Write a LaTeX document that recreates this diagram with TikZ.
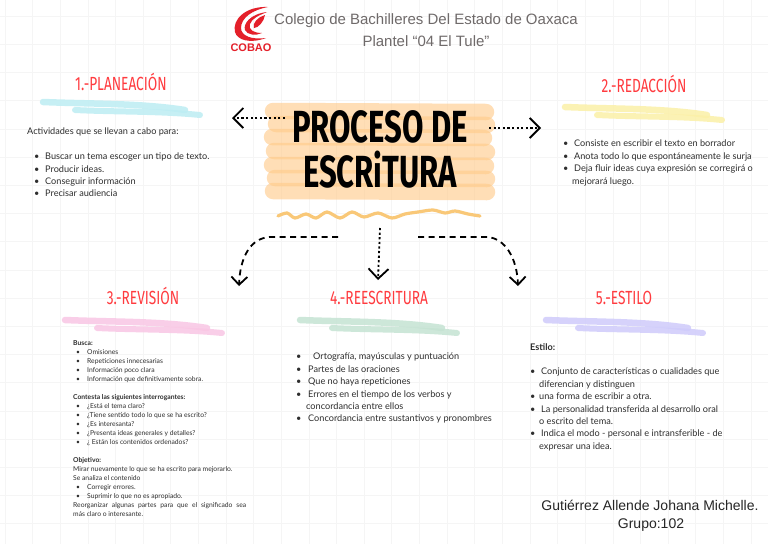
\documentclass[tikz,border=0pt]{standalone}
\usepackage{fontspec}
\usetikzlibrary{arrows.meta}
\setmainfont{Lato}
\newfontfamily\headfont[FakeStretch=0.72]{Fira Sans}
\newfontfamily\titlefont[FakeStretch=0.69]{Fira Sans}
\newfontfamily\arialfont{Liberation Sans}
\definecolor{headred}{HTML}{FF3B3F}
\definecolor{headgray}{HTML}{6F6A6A}
\definecolor{bodygray}{HTML}{2E2E2E}
\definecolor{cobaored}{HTML}{E4202A}
\definecolor{brushorange}{HTML}{FFCB8A}
\definecolor{wiggleorange}{HTML}{F9C878}
\definecolor{markcyan}{HTML}{BDEDF3}
\definecolor{markyellow}{HTML}{FBF0A8}
\definecolor{markpink}{HTML}{F9C6E4}
\definecolor{markgreen}{HTML}{C5E3D3}
\definecolor{marklilac}{HTML}{CFCBFB}
\newcommand{\itm}[2][10pt]{\makebox[#1][l]{\textbullet}#2}
\tikzset{
  headtext/.style={anchor=base,text=headred,font=\headfont\fontsize{19}{20}\selectfont},
  titletext/.style={anchor=base,text=black,font=\titlefont\bfseries\fontsize{45}{50}\selectfont},
  bodytext/.style={anchor=north west,inner sep=0pt,align=left,text=bodygray,font=\fontsize{9.15}{12.4}\selectfont},
  smalltext/.style={anchor=north west,inner sep=0pt,align=left,text=bodygray,font=\fontsize{6.75}{9}\selectfont},
  arialtext/.style={font=\arialfont\fontsize{14}{16}\selectfont},
  dottedlink/.style={line width=1.8pt,dash pattern=on 2.2pt off 2.4pt,-{Straight Barb[length=10pt,width=20pt,line width=1.8pt]}},
  dashedlink/.style={line width=1.8pt,dash pattern=on 6pt off 4.5pt,-{Straight Barb[length=8pt,width=16pt,line width=1.8pt]}}
}
\begin{document}
\begin{tikzpicture}[x=1pt,y=-1pt]
\useasboundingbox (0,0) rectangle (768,544);
\fill[white] (0,0) rectangle (768,544);
\foreach \gx in {0,...,27}
  \draw[black!4,line width=0.5pt] (4.9+27.63*\gx,0) -- (4.9+27.63*\gx,544);
\foreach \gy in {0,...,18}
  \draw[black!4,line width=0.5pt] (0,16+28.2*\gy) -- (768,16+28.2*\gy);

\foreach \by/\bl/\br in {111/273/486,124/276/487,137/272/484,151/274/487,165/272/486,178/275/487,191/273/487}
  \draw[brushorange,opacity=0.62,line width=16.5pt,line cap=round] (\bl,\by) -- (\br,\by+1);
\draw[wiggleorange,line width=3.2pt,line cap=round] plot[smooth] coordinates {(278,216) (287,213) (295,218) (306,214) (316,218) (327,212) (340,218) (352,212) (364,217) (378,213) (392,218) (405,214) (418,212) (433,210) (445,213) (455,211) (468,214) (480,216)};

\foreach \mx/\my/\mcol in {0/0/markcyan,522/5/markyellow,22/218/markpink,257/218/markgreen,503/218/marklilac}{
  \draw[\mcol,opacity=0.85,line width=6.5pt,line cap=round] (43+\mx,102+\my) .. controls (90+\mx,104+\my) and (140+\mx,103+\my) .. (185+\mx,110+\my);
  \draw[\mcol,opacity=0.85,line width=6pt,line cap=round] (75+\mx,110+\my) .. controls (115+\mx,112+\my) and (160+\mx,111+\my) .. (200+\mx,115+\my);
}

\fill[cobaored] (268,7) .. controls (245,6) and (232,20) .. (235,32) .. controls (237,40) and (250,44) .. (266,38) .. controls (252,40) and (241,36) .. (241,28) .. controls (241,18) and (252,10) .. (268,7) -- cycle;
\fill[cobaored] (267,12) .. controls (250,14) and (243,24) .. (245,30) .. controls (247,35) and (256,36) .. (262,33) .. controls (254,33) and (248,30) .. (250,24) .. controls (252,18) and (260,15) .. (267,12) -- cycle;
\fill[cobaored] (265,15) .. controls (258,17) and (252,23) .. (254,28) .. controls (258,28) and (264,22) .. (265,15) -- cycle;
\node (cobao) at (251,48) [inner sep=0pt,text=cobaored,font=\arialfont\bfseries\fontsize{11}{12}\selectfont] {COBAO};

\node (colegio) at (426,21) [text=headgray,font=\arialfont\fontsize{15}{16}\selectfont] {Colegio de Bachilleres Del Estado de Oaxaca};
\node (plantel) at (426,41) [text=headgray,font=\arialfont\fontsize{15}{16}\selectfont] {Plantel “04 El Tule”};

\node (procesotitle) at (380,142) [titletext] {PROCESO DE};
\node (escrituratitle) at (380,187) [titletext] {ESCRiTURA};

\node (planeacion) at (121,90) [headtext] {1.-PLANEACIÓN};
\node (redaccion) at (644,92) [headtext] {2.-REDACCIÓN};
\node (revision) at (143,304) [headtext] {3.-REVISIÓN};
\node (reescritura) at (379,304) [headtext] {4.-REESCRITURA};
\node (estilo) at (624,304) [headtext] {5.-ESTILO};

\node (planeatext) at (27,128) [bodytext] {Actividades que se llevan a cabo para:\\[0pt]
\mbox{}\\
\hspace*{7pt}\itm[11pt]{Buscar un tema escoger un tipo de texto.}\\
\hspace*{7pt}\itm[11pt]{Producir ideas.}\\
\hspace*{7pt}\itm[11pt]{Conseguir información}\\
\hspace*{7pt}\itm[11pt]{Precisar audiencia}};

\node (redacciontext) at (563,140) [bodytext] {\itm[11pt]{Consiste en escribir el texto en borrador}\\
\itm[11pt]{Anota todo lo que espontáneamente le surja}\\
\itm[11pt]{Deja fluir ideas cuya expresión se corregirá o}\\
\hspace*{9pt}mejorará luego.};

\node (revisiontext) at (73,340) [smalltext] {\textbf{Busca:}\\
\hspace*{3pt}\itm[11pt]{Omisiones}\\
\hspace*{3pt}\itm[11pt]{Repeticiones innecesarias}\\
\hspace*{3pt}\itm[11pt]{Información poco clara}\\
\hspace*{3pt}\itm[11pt]{Información que definitivamente sobra.}\\
\mbox{}\\
\textbf{Contesta las siguientes interrogantes:}\\
\hspace*{3pt}\itm[11pt]{¿Está el tema claro?}\\
\hspace*{3pt}\itm[11pt]{¿Tiene sentido todo lo que se ha escrito?}\\
\hspace*{3pt}\itm[11pt]{¿Es interesanta?}\\
\hspace*{3pt}\itm[11pt]{¿Presenta ideas generales y detalles?}\\
\hspace*{3pt}\itm[11pt]{¿ Están los contenidos ordenados?}\\
\mbox{}\\
\textbf{Objetivo:}\\
Mirar nuevamente lo que se ha escrito para mejorarlo.\\
Se analiza el contenido\\
\hspace*{3pt}\itm[11pt]{Corregir errores.}\\
\hspace*{3pt}\itm[11pt]{Suprimir lo que no es apropiado.}\\
\makebox[173pt][s]{Reorganizar algunas partes para que el significado sea}\\
más claro o interesante.};

\node (reescrituratext) at (296,353) [bodytext] {\itm[17pt]{Ortografía, mayúsculas y puntuación}\\
\itm[12pt]{Partes de las oraciones}\\
\itm[12pt]{Que no haya repeticiones}\\
\itm[12pt]{Errores en el tiempo de los verbos y}\\
\hspace*{10pt}concordancia entre ellos\\
\itm[12pt]{Concordancia entre sustantivos y pronombres}};

\node (estilotext) at (530,343) [bodytext] {\textbf{Estilo:}\\
\mbox{}\\
\itm[11pt]{Conjunto de características o cualidades que}\\
\hspace*{9pt}diferencian y distinguen\\
\itm[9pt]{una forma de escribir a otra.}\\
\itm[11pt]{La personalidad transferida al desarrollo oral}\\
\hspace*{9pt}o escrito del tema.\\
\itm[11pt]{Indica el modo - personal e intransferible - de}\\
\hspace*{9pt}expresar una idea.};

\node (autora) at (650,505.5) [arialtext,text=black!85] {Gutiérrez Allende Johana Michelle.};
\node (grupo) at (651,525.5) [arialtext,text=black!85] {Grupo:102};

\coordinate (leftstart) at (285,118);
\coordinate (lefttip) at (232,118);
\coordinate (rightstart) at (489,128);
\coordinate (righttip) at (541,128);
\coordinate (downlstart) at (338,237);
\coordinate (downltip) at (239,286);
\coordinate (downmstart) at (380,228);
\coordinate (downmtip) at (378,280);
\coordinate (downrstart) at (418,237);
\coordinate (downrtip) at (518,286);

\draw[dottedlink] (leftstart) -- (lefttip);
\draw[dottedlink] (rightstart) -- (righttip);
\draw[dottedlink] (downmstart) -- (downmtip);
\draw[dashedlink] (downlstart) -- (270,237) .. controls (250,238) and (240,258) .. (downltip);
\draw[dashedlink] (downrstart) -- (487,237) .. controls (505,238) and (517,258) .. (downrtip);
\end{tikzpicture}
\end{document}
